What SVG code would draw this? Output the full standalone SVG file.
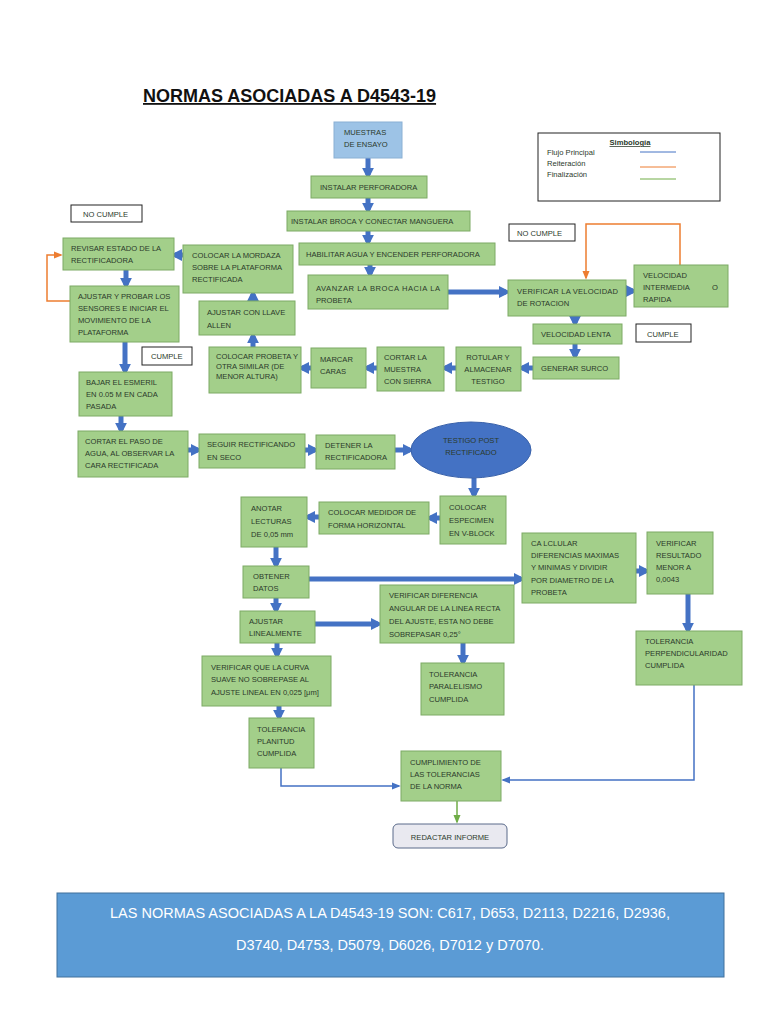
<svg xmlns="http://www.w3.org/2000/svg" width="768" height="1024" viewBox="0 0 768 1024">
<defs>
<style>
.n{fill:#A3CF8A;stroke:#7DAA64;stroke-width:1}
.t{font-family:"Liberation Sans",Arial,sans-serif;font-size:7.6px;fill:#2b3a2b}
.lb{fill:#fff;stroke:#222;stroke-width:1}
.ba{stroke:#4472C4;stroke-width:5;fill:none}
.tl{stroke-width:1.5;fill:none}
</style>
<marker id="ah" viewBox="0 0 10 10" refX="6" refY="5" markerWidth="2.4" markerHeight="2.4" orient="auto"><path d="M0,0L10,5L0,10z" fill="#4472C4"/></marker>
<marker id="bt" viewBox="0 0 10 10" refX="8" refY="5" markerWidth="6" markerHeight="6" orient="auto"><path d="M0,1L10,5L0,9z" fill="#4472C4"/></marker>
<marker id="ot" viewBox="0 0 10 10" refX="8" refY="5" markerWidth="6" markerHeight="6" orient="auto"><path d="M0,1L10,5L0,9z" fill="#ED7D31"/></marker>
<marker id="gt" viewBox="0 0 10 10" refX="8" refY="5" markerWidth="6" markerHeight="6" orient="auto"><path d="M0,1L10,5L0,9z" fill="#70AD47"/></marker>
</defs>
<rect width="768" height="1024" fill="#fff"/>
<text x="143" y="102" font-family="Liberation Sans,Arial,sans-serif" font-size="18" font-weight="bold" fill="#111" text-decoration="underline">NORMAS ASOCIADAS A D4543-19</text>

<g id="legend"><rect x="538" y="133" width="182" height="68" class="lb"/>
<text x="630" y="145" class="t" font-weight="bold" text-decoration="underline" text-anchor="middle" fill="#222">Simbología</text>
<text x="547" y="155" class="t" fill="#222">Flujo Principal</text><text x="547" y="166" class="t" fill="#222">Reiteración</text><text x="547" y="177" class="t" fill="#222">Finalización</text>
<line x1="640" y1="152" x2="676" y2="152" stroke="#4472C4"/><line x1="640" y1="167" x2="676" y2="167" stroke="#ED7D31"/><line x1="640" y1="179" x2="676" y2="179" stroke="#70AD47"/></g>

<g id="labels">
<rect x="71" y="205" width="71" height="17" class="lb"/><text x="83" y="217" class="t" fill="#222">NO CUMPLE</text>
<rect x="509" y="224" width="66" height="17" class="lb"/><text x="517" y="236" class="t" fill="#222">NO CUMPLE</text>
<rect x="142" y="347" width="50" height="18" class="lb"/><text x="151" y="359" class="t" fill="#222">CUMPLE</text>
<rect x="636" y="324" width="55" height="18" class="lb"/><text x="647" y="337" class="t" fill="#222">CUMPLE</text>
</g>

<g id="connectors">
<line x1="368" y1="158" x2="368" y2="175" class="ba" marker-end="url(#ah)"/>
<line x1="368" y1="198" x2="368" y2="210" class="ba" marker-end="url(#ah)"/>
<line x1="368" y1="231" x2="368" y2="242" class="ba" marker-end="url(#ah)"/>
<line x1="370" y1="265" x2="370" y2="274" class="ba" marker-end="url(#ah)"/>
<line x1="448" y1="292" x2="506" y2="292" class="ba" marker-end="url(#ah)"/>
<line x1="626" y1="291" x2="633" y2="291" class="ba" marker-end="url(#ah)"/>
<line x1="575" y1="316" x2="575" y2="323" class="ba" marker-end="url(#ah)"/>
<line x1="575" y1="344" x2="575" y2="356" class="ba" marker-end="url(#ah)"/>
<line x1="533" y1="368" x2="522" y2="368" class="ba" marker-end="url(#ah)"/>
<line x1="456" y1="368" x2="445" y2="368" class="ba" marker-end="url(#ah)"/>
<line x1="377" y1="368" x2="367" y2="368" class="ba" marker-end="url(#ah)"/>
<line x1="311" y1="368" x2="302" y2="368" class="ba" marker-end="url(#ah)"/>
<line x1="253" y1="347" x2="253" y2="336" class="ba" marker-end="url(#ah)"/>
<line x1="253" y1="301" x2="253" y2="294" class="ba" marker-end="url(#ah)"/>
<line x1="183" y1="255" x2="175" y2="255" class="ba" marker-end="url(#ah)"/>
<line x1="126" y1="270" x2="126" y2="285" class="ba" marker-end="url(#ah)"/>
<line x1="125" y1="342" x2="125" y2="371" class="ba" marker-end="url(#ah)"/>
<line x1="121" y1="416" x2="121" y2="430" class="ba" marker-end="url(#ah)"/>
<line x1="188" y1="450" x2="198" y2="450" class="ba" marker-end="url(#ah)"/>
<line x1="305" y1="450" x2="315" y2="450" class="ba" marker-end="url(#ah)"/>
<line x1="395" y1="450" x2="410" y2="450" class="ba" marker-end="url(#ah)"/>
<line x1="474" y1="478" x2="474" y2="495" class="ba" marker-end="url(#ah)"/>
<line x1="440" y1="518" x2="430" y2="518" class="ba" marker-end="url(#ah)"/>
<line x1="319" y1="517" x2="308" y2="517" class="ba" marker-end="url(#ah)"/>
<line x1="276" y1="547" x2="276" y2="565" class="ba" marker-end="url(#ah)"/>
<line x1="309" y1="579" x2="521" y2="579" class="ba" stroke-width="4" marker-end="url(#ah)"/>
<line x1="276" y1="598" x2="276" y2="610" class="ba" marker-end="url(#ah)"/>
<line x1="315" y1="624" x2="378" y2="624" class="ba" stroke-width="6" marker-end="url(#ah)"/>
<line x1="277" y1="643" x2="277" y2="655" class="ba" marker-end="url(#ah)"/>
<line x1="279" y1="706" x2="279" y2="717" class="ba" marker-end="url(#ah)"/>
<line x1="463" y1="643" x2="463" y2="662" class="ba" marker-end="url(#ah)"/>
<line x1="636" y1="571" x2="646" y2="571" class="ba" marker-end="url(#ah)"/>
<line x1="688" y1="594" x2="688" y2="630" class="ba" marker-end="url(#ah)"/>
<path d="M70,301H47V255H61" class="tl" stroke="#ED7D31" marker-end="url(#ot)"/>
<path d="M680,265V224H586V278" class="tl" stroke="#ED7D31" marker-end="url(#ot)"/>
<path d="M281,768V786H399" class="tl" stroke="#4472C4" marker-end="url(#bt)"/>
<path d="M694,685V780H503" class="tl" stroke="#4472C4" marker-end="url(#bt)"/>
<path d="M457,801V822" class="tl" stroke="#70AD47" marker-end="url(#gt)"/>
</g>

<g id="muestras"><rect x="334" y="122" width="68" height="36" fill="#9DC3E6" stroke="#8AB0D4"/><text x="344" y="135" class="t">MUESTRAS</text><text x="344" y="147" class="t">DE ENSAYO</text></g>
<g id="instalar-perf"><rect x="311" y="176" width="116" height="22" class="n"/><text x="320" y="190" class="t">INSTALAR PERFORADORA</text></g>
<g id="instalar-broca"><rect x="287" y="211" width="183" height="20" class="n"/><text x="291" y="224" class="t">INSTALAR BROCA Y CONECTAR MANGUERA</text></g>
<g id="habilitar"><rect x="299" y="243" width="196" height="22" class="n"/><text x="306" y="257" class="t">HABILITAR AGUA Y ENCENDER PERFORADORA</text></g>
<g id="avanzar"><rect x="308" y="275" width="140" height="34" class="n"/><text x="316" y="291" class="t" textLength="124">AVANZAR LA BROCA HACIA LA</text><text x="316" y="303" class="t">PROBETA</text></g>
<g id="verificar-vel"><rect x="508" y="280" width="118" height="36" class="n"/><text x="517" y="294" class="t" textLength="101">VERIFICAR LA VELOCIDAD</text><text x="517" y="306" class="t">DE ROTACION</text></g>
<g id="vel-intermedia"><rect x="634" y="265" width="94" height="42" class="n"/><text x="643" y="278" class="t">VELOCIDAD</text><text x="643" y="290" class="t">INTERMEDIA</text><text x="712" y="290" class="t">O</text><text x="643" y="302" class="t">RAPIDA</text></g>
<g id="vel-lenta"><rect x="533" y="324" width="89" height="20" class="n"/><text x="541" y="337" class="t">VELOCIDAD LENTA</text></g>
<g id="surco"><rect x="533" y="357" width="86" height="22" class="n"/><text x="541" y="371" class="t">GENERAR SURCO</text></g>
<g id="rotular"><rect x="456" y="347" width="65" height="44" class="n"/><text x="488" y="360" class="t" text-anchor="middle">ROTULAR Y</text><text x="488" y="372" class="t" text-anchor="middle">ALMACENAR</text><text x="488" y="384" class="t" text-anchor="middle">TESTIGO</text></g>
<g id="cortar-muestra"><rect x="377" y="347" width="67" height="44" class="n"/><text x="384" y="360" class="t">CORTAR LA</text><text x="384" y="372" class="t">MUESTRA</text><text x="384" y="384" class="t">CON SIERRA</text></g>
<g id="marcar"><rect x="311" y="348" width="55" height="40" class="n"/><text x="320" y="362" class="t">MARCAR</text><text x="320" y="374" class="t">CARAS</text></g>
<g id="colocar-probeta"><rect x="209" y="347" width="92" height="46" class="n"/><text x="216" y="359" class="t" font-size="6.5">COLOCAR PROBETA Y</text><text x="216" y="369" class="t" font-size="6.5">OTRA SIMILAR (DE</text><text x="216" y="379" class="t" font-size="6.5">MENOR ALTURA)</text></g>
<g id="allen"><rect x="199" y="301" width="96" height="34" class="n"/><text x="207" y="315" class="t">AJUSTAR CON LLAVE</text><text x="207" y="328" class="t">ALLEN</text></g>
<g id="mordaza"><rect x="183" y="245" width="110" height="48" class="n"/><text x="192" y="258" class="t">COLOCAR LA MORDAZA</text><text x="192" y="270" class="t">SOBRE LA PLATAFORMA</text><text x="192" y="282" class="t">RECTIFICADA</text></g>
<g id="revisar"><rect x="63" y="238" width="111" height="32" class="n"/><text x="71" y="251" class="t">REVISAR ESTADO DE LA</text><text x="71" y="263" class="t">RECTIFICADORA</text></g>
<g id="ajustar-probar"><rect x="70" y="286" width="109" height="56" class="n"/><text x="78" y="299" class="t">AJUSTAR Y PROBAR LOS</text><text x="78" y="311" class="t">SENSORES E INICIAR EL</text><text x="78" y="323" class="t">MOVIMIENTO DE  LA</text><text x="78" y="335" class="t">PLATAFORMA</text></g>
<g id="bajar"><rect x="79" y="372" width="93" height="44" class="n"/><text x="86" y="385" class="t">BAJAR EL ESMERIL</text><text x="86" y="397" class="t">EN 0.05 M EN CADA</text><text x="86" y="409" class="t">PASADA</text></g>
<g id="cortar-agua"><rect x="78" y="431" width="110" height="46" class="n"/><text x="85" y="444" class="t">CORTAR EL PASO DE</text><text x="85" y="456" class="t">AGUA, AL OBSERVAR LA</text><text x="85" y="468" class="t">CARA RECTIFICADA</text></g>
<g id="seguir"><rect x="199" y="434" width="106" height="34" class="n"/><text x="207" y="447" class="t">SEGUIR RECTIFICANDO</text><text x="207" y="460" class="t">EN SECO</text></g>
<g id="detener"><rect x="316" y="435" width="79" height="34" class="n"/><text x="325" y="448" class="t">DETENER LA</text><text x="325" y="460" class="t">RECTIFICADORA</text></g>
<g id="testigo"><ellipse cx="471" cy="450" rx="60" ry="28" fill="#4472C4" stroke="#3A62AA"/><text x="471" y="443" class="t" text-anchor="middle" fill="#1a2a4a">TESTIGO POST</text><text x="471" y="455" class="t" text-anchor="middle" fill="#1a2a4a">RECTIFICADO</text></g>
<g id="especimen"><rect x="440" y="496" width="66" height="48" class="n"/><text x="449" y="510" class="t">COLOCAR</text><text x="449" y="523" class="t">ESPECIMEN</text><text x="449" y="536" class="t">EN V-BLOCK</text></g>
<g id="medidor"><rect x="319" y="502" width="110" height="32" class="n"/><text x="328" y="515" class="t">COLOCAR MEDIDOR DE</text><text x="328" y="528" class="t">FORMA HORIZONTAL</text></g>
<g id="anotar"><rect x="241" y="497" width="66" height="50" class="n"/><text x="251" y="511" class="t">ANOTAR</text><text x="251" y="524" class="t">LECTURAS</text><text x="251" y="537" class="t">DE 0,05 mm</text></g>
<g id="obtener"><rect x="243" y="566" width="66" height="32" class="n"/><text x="253" y="579" class="t">OBTENER</text><text x="253" y="591" class="t">DATOS</text></g>
<g id="ajustar-lin"><rect x="240" y="611" width="75" height="32" class="n"/><text x="249" y="624" class="t">AJUSTAR</text><text x="249" y="636" class="t">LINEALMENTE</text></g>
<g id="angular"><rect x="380" y="585" width="134" height="58" class="n"/><text x="389" y="598" class="t">VERIFICAR DIFERENCIA</text><text x="389" y="611" class="t">ANGULAR DE LA LINEA RECTA</text><text x="389" y="624" class="t">DEL AJUSTE, ESTA NO DEBE</text><text x="389" y="637" class="t">SOBREPASAR 0,25°</text></g>
<g id="paralelismo"><rect x="421" y="663" width="83" height="52" class="n"/><text x="429" y="677" class="t">TOLERANCIA</text><text x="429" y="689" class="t">PARALELISMO</text><text x="429" y="702" class="t">CUMPLIDA</text></g>
<g id="curva"><rect x="202" y="656" width="129" height="50" class="n"/><text x="211" y="670" class="t">VERIFICAR QUE LA CURVA</text><text x="211" y="682" class="t">SUAVE NO SOBREPASE AL</text><text x="211" y="695" class="t">AJUSTE LINEAL EN 0,025 [μm]</text></g>
<g id="planitud"><rect x="249" y="718" width="65" height="50" class="n"/><text x="257" y="732" class="t">TOLERANCIA</text><text x="257" y="744" class="t">PLANITUD</text><text x="257" y="756" class="t">CUMPLIDA</text></g>
<g id="calcular"><rect x="522" y="533" width="114" height="70" class="n"/><text x="531" y="546" class="t">CA LCLULAR</text><text x="531" y="558" class="t">DIFERENCIAS MAXIMAS</text><text x="531" y="570" class="t">Y MINIMAS Y DIVIDIR</text><text x="531" y="583" class="t">POR DIAMETRO DE LA</text><text x="531" y="595" class="t">PROBETA</text></g>
<g id="resultado"><rect x="647" y="532" width="66" height="62" class="n"/><text x="656" y="546" class="t">VERIFICAR</text><text x="656" y="558" class="t">RESULTADO</text><text x="656" y="570" class="t">MENOR A</text><text x="656" y="582" class="t">0,0043</text></g>
<g id="perpendicularidad"><rect x="636" y="631" width="106" height="54" class="n"/><text x="645" y="644" class="t">TOLERANCIA</text><text x="645" y="656" class="t">PERPENDICULARIDAD</text><text x="645" y="668" class="t">CUMPLIDA</text></g>
<g id="cumplimiento"><rect x="401" y="751" width="100" height="50" class="n"/><text x="410" y="765" class="t">CUMPLIMIENTO DE</text><text x="410" y="777" class="t">LAS TOLERANCIAS</text><text x="410" y="789" class="t">DE LA NORMA</text></g>
<g id="redactar"><rect x="393" y="824" width="114" height="24" rx="5" fill="#E9E9F0" stroke="#5A6A8A"/><text x="450" y="840" class="t" text-anchor="middle" fill="#333">REDACTAR INFORME</text></g>

<g id="nota"><rect x="57" y="893" width="667" height="84" fill="#5B9BD5" stroke="#41719C"/>
<text x="390" y="918" font-family="Liberation Sans,Arial,sans-serif" font-size="14.5" fill="#fff" text-anchor="middle">LAS NORMAS ASOCIADAS A LA D4543-19 SON: C617, D653, D2113, D2216, D2936,</text>
<text x="390" y="950" font-family="Liberation Sans,Arial,sans-serif" font-size="14.5" fill="#fff" text-anchor="middle">D3740, D4753, D5079, D6026, D7012 y D7070.</text></g>
</svg>
